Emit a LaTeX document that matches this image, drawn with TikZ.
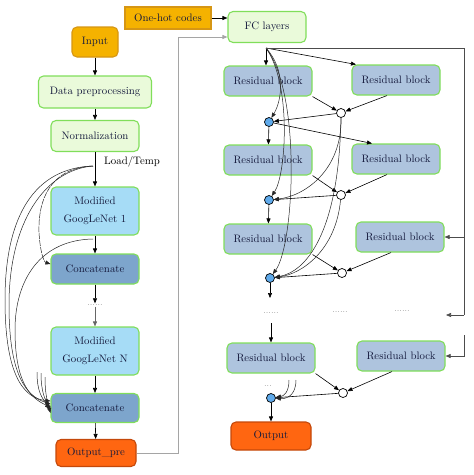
\documentclass[tikz,border=0pt]{standalone}
\usepackage{xcolor}
\definecolor{dnorange}{RGB}{245,178,0}
\definecolor{dnorangeline}{RGB}{214,150,20}
\definecolor{dnmint}{RGB}{234,250,218}
\definecolor{dnborder}{RGB}{128,222,90}
\definecolor{dnsky}{RGB}{166,220,246}
\definecolor{dnsteel}{RGB}{125,165,204}
\definecolor{dnres}{RGB}{174,196,222}
\definecolor{dnred}{RGB}{255,102,17}
\definecolor{dnredline}{RGB}{196,72,10}
\definecolor{dndot}{RGB}{95,170,235}
\definecolor{dngray}{RGB}{165,165,165}
\definecolor{dntext}{RGB}{20,25,60}
\usetikzlibrary{arrows.meta,positioning,calc}
\tikzset{
  box/.style={draw=#1, rounded corners=5pt, line width=1.1pt, font=\fontsize{10.8}{18.5}\selectfont,
              text=dntext, align=center, inner sep=2pt},
  inbox/.style={box=dnorangeline, fill=dnorange},
  prebox/.style={box=dnborder, fill=dnmint},
  netbox/.style={box=dnborder, fill=dnsky, minimum width=88pt, minimum height=48pt},
  catbox/.style={box=dnborder, fill=dnsteel, minimum width=88pt, minimum height=30pt},
  resbox/.style={box=dnborder, fill=dnres, minimum width=88pt, minimum height=30pt},
  outbox/.style={box=dnredline, fill=dnred, minimum width=80pt, minimum height=28pt},
  sumdot/.style={draw, circle, fill=dndot, line width=0.7pt, minimum size=9pt, inner sep=0pt},
  adddot/.style={draw, circle, fill=white, line width=0.7pt, minimum size=9pt, inner sep=0pt},
  dotrow/.style={font=\small, text=black!55, inner sep=1pt},
  arr/.style={->, line width=0.6pt},
  link/.style={->, line width=0.5pt, black!85},
  gline/.style={line width=0.8pt, dngray},
}

\begin{document}
\begin{tikzpicture}[x=1pt, y=-1pt, >={Triangle[length=5pt,width=4pt]}]
\useasboundingbox (0,0) rectangle (474,475);

% --- Left branch: feature extraction ---
\node[inbox, minimum width=46pt, minimum height=30pt] (input) at (95,42) {Input};
\node[prebox, minimum width=113pt, minimum height=32pt] (prep) at (95,92) {Data preprocessing};
\node[prebox, minimum width=88pt, minimum height=31pt] (norm) at (95,136) {Normalization};
\node[netbox] (gnet1) at (95,211) {Modified\\GoogLeNet 1};
\node[catbox] (cat1) at (95,269) {Concatenate};
\node[dotrow] (ldots) at (95,305) {......};
\node[netbox] (gnetn) at (95,351) {Modified\\GoogLeNet N};
\node[catbox, minimum height=29pt] (cat2) at (95,408) {Concatenate};
\node[outbox, minimum height=27pt] (outpre) at (96,453) {Output\_pre};
\node[font=\fontsize{10.8}{12}\selectfont, anchor=west, inner sep=0pt] (loadlbl) at (104,162) {Load/Temp};

\draw[arr] (input) -- (prep);
\draw[arr] (prep) -- (norm);
\draw[arr] (norm) -- (gnet1);
\draw[arr] (gnet1) -- (cat1);
\draw[arr] (cat1) -- (ldots);
\draw[arr, black!60] (ldots) -- (gnetn);
\draw[arr] (gnetn) -- (cat2);
\draw[arr] (cat2) -- (outpre);

% skip connections into the concatenations
\coordinate (normout) at (93,166);
\coordinate (gn1out) at (93,239);
\draw[link, dashed, dash pattern=on 6pt off 1pt] (normout) .. controls (50,168) and (38,200) .. (39,232)
  .. controls (40,252) and (44,262) .. ([yshift=5pt]cat1.west);
\draw[link] (normout) .. controls (35,168) and (5,215) .. (5,300)
  .. controls (5,372) and (22,398) .. ([yshift=7pt]cat2.west);
\draw[link] (normout) .. controls (45,170) and (9,222) .. (9,305)
  .. controls (9,375) and (26,396) .. ([yshift=4pt]cat2.west);
\draw[link] (gn1out) .. controls (40,240) and (15,280) .. (15,330)
  .. controls (15,382) and (30,398) .. ([yshift=1pt]cat2.west);
\coordinate (stuba) at (37,372);
\coordinate (stubb) at (41,373);
\coordinate (stubc) at (45,377);
\draw[link] (stuba) .. controls (37,392) and (42,398) .. ([yshift=-1pt]cat2.west);
\draw[link] (stubb) .. controls (41,392) and (45,399) .. ([yshift=-3pt]cat2.west);
\draw[link] (stubc) .. controls (45,393) and (47,400) .. ([yshift=-5pt]cat2.west);

% --- Right branch: residual network ---
\node[inbox, minimum width=86pt, minimum height=22pt, rounded corners=0pt] (onehot) at (168,18) {One-hot codes};
\node[prebox, minimum width=78pt, minimum height=31pt] (fc) at (267,27) {FC layers};

\draw[arr] (onehot.east) -- (onehot.east -| fc.west);
\draw[gline, ->] (outpre.east) -- ++(42,0) |- ([yshift=-10pt]fc.west);

\node[resbox] (res11) at (268,81) {Residual block};
\node[resbox] (res12) at (396,80) {Residual block};
\node[resbox] (res21) at (268,160) {Residual block};
\node[resbox] (res22) at (396,159) {Residual block};
\node[resbox] (res31) at (268,239) {Residual block};
\node[resbox] (res32) at (400,237) {Residual block};
\node[resbox] (res41) at (271,358) {Residual block};
\node[resbox] (res42) at (401,356) {Residual block};
\node[outbox] (output) at (271,436) {Output};

\node[adddot] (oc1) at (341,113) {};
\node[sumdot] (bc1) at (269,122) {};
\node[adddot] (oc2) at (341,195) {};
\node[sumdot] (bc2) at (269,200) {};
\node[adddot] (oc3) at (342,273) {};
\node[sumdot] (bc3) at (270,278) {};
\node[adddot] (oc4) at (343,393) {};
\node[sumdot] (bc4) at (271,398) {};

\node[dotrow] (rdots1) at (271,313) {......};
\node[dotrow] (rdots2) at (340,312) {......};
\node[dotrow] (rdots3) at (402,311) {......};
\node[dotrow] (tdots) at (268,386) {...};

\coordinate (fcout) at (266,48);
\coordinate (bc3down) at (270,298);
\coordinate (d1out) at (271,323);

% straight links
\draw[arr] (fcout) -- (fcout |- res11.north);
\draw[arr] (fcout) -- ([xshift=-40pt]res12.north);
\draw[arr] (res11.south east) -- (oc1);
\draw[arr] ([xshift=-9pt]res12.south) -- (oc1);
\draw[arr] (oc1) -- (bc1);
\draw[arr] (bc1) -- (res21);
\draw[arr] (bc1) -- ([xshift=-24pt]res22.north);
\draw[arr] (res21.south east) -- (oc2);
\draw[arr] ([xshift=-9pt]res22.south) -- (oc2);
\draw[arr] (oc2) -- (bc2);
\draw[arr] (bc2) -- (res31);
\draw[arr] (res31.south east) -- (oc3);
\draw[arr] ([xshift=-9pt]res32.south) -- (oc3);
\draw[arr] (oc3) -- (bc3);
\draw[arr] (bc3) -- (bc3down);
\draw[arr] (d1out) -- (res41);
\draw[arr] (res41.south east) -- (oc4);
\draw[arr] ([xshift=-9pt]res42.south) -- (oc4);
\draw[arr] (oc4) -- (bc4);
\draw[arr] (bc4) -- (output);

% dense links to the summation points
\draw[link] (fcout) .. controls (286,70) and (282,100) .. (bc1);
\draw[link] (fcout) .. controls (292,85) and (286,175) .. (bc2);
\draw[link] (fcout) .. controls (302,95) and (294,245) .. (bc3);
\draw[link] (oc1) .. controls (342,170) and (305,196) .. (bc2);
\draw[link] (oc1) .. controls (339,235) and (305,272) .. (bc3);
\draw[link] (oc2) .. controls (336,250) and (302,274) .. (bc3);
\coordinate (stubd) at (289,380);
\coordinate (stube) at (296,380);
\draw[link] (stubd) .. controls (289,392) and (284,396) .. (bc4);
\draw[link] (stube) .. controls (296,396) and (286,399) .. (bc4);

% feed from the FC layers along the right edge
\coordinate (rtop) at (464,48);
\coordinate (rbot) at (464,315);
\coordinate (dend) at (446,315);
\coordinate (rstub) at (464,335);
\draw[line width=0.6pt, black!70] (fcout) -- (rtop) -- (rbot);
\draw[arr, black!70] (rtop |- res32.east) -- (res32.east);
\draw[arr, black!70] (rbot) -- (dend);
\draw[arr, black!70] (rstub) |- (res42.east);

\end{tikzpicture}
\end{document}
